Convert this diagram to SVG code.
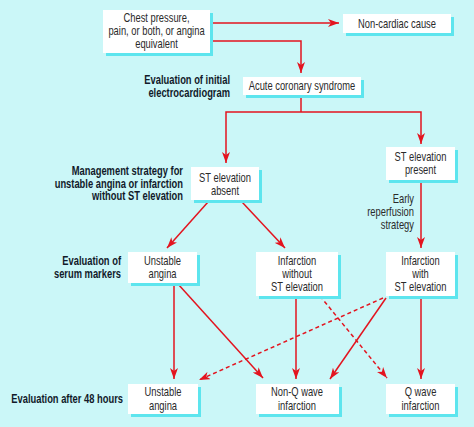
<svg xmlns="http://www.w3.org/2000/svg" width="474" height="427" viewBox="0 0 474 427">
<style>
.bg{fill:#cbf7f8}
.sh{fill:#5de5ee}
.bx{fill:#ffffff}
.t{font-family:"Liberation Sans",Arial,sans-serif;font-size:12px;fill:#2a2a2a;text-anchor:middle}
.l{font-family:"Liberation Sans",Arial,sans-serif;font-size:12px;font-weight:bold;fill:#111a2a;text-anchor:end}
.c{fill:none;stroke:#e3141f;stroke-width:1.5}
.d{stroke-dasharray:4 3}
</style>
<defs>
<marker id="ah" viewBox="0 0 11 8" refX="11" refY="4" markerWidth="11" markerHeight="8" markerUnits="userSpaceOnUse" orient="auto">
<path d="M0,0 L11,4 L0,8 L3,4 z" fill="#e3141f"/>
</marker>
</defs>
<rect class="bg" x="0" y="0" width="474" height="427"/>

<g id="labels">
<text class="l" transform="translate(230,84) scale(0.78,1)">Evaluation of initial</text>
<text class="l" transform="translate(230,97) scale(0.78,1)">electrocardiogram</text>
<text class="l" transform="translate(183,175) scale(0.78,1)">Management strategy for</text>
<text class="l" transform="translate(183,187.5) scale(0.78,1)">unstable angina or infarction</text>
<text class="l" transform="translate(183,200) scale(0.78,1)">without ST elevation</text>
<text class="l" transform="translate(121,265) scale(0.78,1)">Evaluation of</text>
<text class="l" transform="translate(121,278) scale(0.78,1)">serum markers</text>
<text class="l" transform="translate(123,403) scale(0.78,1)">Evaluation after 48 hours</text>
<text class="t" style="text-anchor:end" transform="translate(414,203) scale(0.78,1)">Early</text>
<text class="t" style="text-anchor:end" transform="translate(414,216) scale(0.78,1)">reperfusion</text>
<text class="t" style="text-anchor:end" transform="translate(414,229) scale(0.78,1)">strategy</text>
</g>

<g id="connectors">
<path class="c" d="M210,23 H339" marker-end="url(#ah)"/>
<path class="c" d="M210,41 H301 V73" marker-end="url(#ah)"/>
<path class="c" d="M301,95 V112"/>
<path class="c" d="M301,112 H226 V163" marker-end="url(#ah)"/>
<path class="c" d="M301,112 H421 V144" marker-end="url(#ah)"/>
<path class="c" d="M421,180 V248" marker-end="url(#ah)"/>
<path class="c" d="M208,202 L167,248" marker-end="url(#ah)"/>
<path class="c" d="M242,202 L285,248" marker-end="url(#ah)"/>
<path class="c" d="M174,284 V379" marker-end="url(#ah)"/>
<path class="c" d="M178,284 L263,378" marker-end="url(#ah)"/>
<path class="c" d="M296,296 V379" marker-end="url(#ah)"/>
<path class="c d" d="M320,296 L387,378" marker-end="url(#ah)"/>
<path class="c d" d="M383,298 L199,380" marker-end="url(#ah)"/>
<path class="c" d="M386,298 L330,379" marker-end="url(#ah)"/>
<path class="c" d="M421,296 V379" marker-end="url(#ah)"/>
</g>

<g id="chest">
<rect class="sh" x="106" y="13" width="107" height="43"/>
<rect class="bx" x="103" y="10" width="107" height="43"/>
<text class="t" transform="translate(156.5,22) scale(0.78,1)">Chest pressure,</text>
<text class="t" transform="translate(156.5,35) scale(0.78,1)">pain, or both, or angina</text>
<text class="t" transform="translate(156.5,48) scale(0.78,1)">equivalent</text>
</g>
<g id="noncardiac">
<rect class="sh" x="346" y="17" width="108" height="19"/>
<rect class="bx" x="343" y="14" width="108" height="19"/>
<text class="t" transform="translate(397,27.5) scale(0.78,1)">Non-cardiac cause</text>
</g>
<g id="acs">
<rect class="sh" x="246" y="80" width="118" height="18"/>
<rect class="bx" x="243" y="77" width="118" height="18"/>
<text class="t" transform="translate(302,89.5) scale(0.78,1)">Acute coronary syndrome</text>
</g>
<g id="st-absent">
<rect class="sh" x="194" y="170" width="68" height="33"/>
<rect class="bx" x="191" y="167" width="68" height="33"/>
<text class="t" transform="translate(225,182) scale(0.78,1)">ST elevation</text>
<text class="t" transform="translate(225,195) scale(0.78,1)">absent</text>
</g>
<g id="st-present">
<rect class="sh" x="389" y="150" width="69" height="33"/>
<rect class="bx" x="386" y="147" width="69" height="33"/>
<text class="t" transform="translate(420.5,161) scale(0.78,1)">ST elevation</text>
<text class="t" transform="translate(420.5,174) scale(0.78,1)">present</text>
</g>
<g id="ua1">
<rect class="sh" x="131" y="255" width="69" height="31"/>
<rect class="bx" x="128" y="252" width="69" height="31"/>
<text class="t" transform="translate(162.5,265) scale(0.78,1)">Unstable</text>
<text class="t" transform="translate(162.5,278) scale(0.78,1)">angina</text>
</g>
<g id="inf-without">
<rect class="sh" x="259" y="255" width="82" height="44"/>
<rect class="bx" x="256" y="252" width="82" height="44"/>
<text class="t" transform="translate(297,265) scale(0.78,1)">Infarction</text>
<text class="t" transform="translate(297,278) scale(0.78,1)">without</text>
<text class="t" transform="translate(297,291) scale(0.78,1)">ST elevation</text>
</g>
<g id="inf-with">
<rect class="sh" x="389" y="255" width="69" height="44"/>
<rect class="bx" x="386" y="252" width="69" height="44"/>
<text class="t" transform="translate(420.5,265) scale(0.78,1)">Infarction</text>
<text class="t" transform="translate(420.5,278) scale(0.78,1)">with</text>
<text class="t" transform="translate(420.5,291) scale(0.78,1)">ST elevation</text>
</g>
<g id="ua2">
<rect class="sh" x="131" y="387" width="70" height="30"/>
<rect class="bx" x="128" y="384" width="70" height="30"/>
<text class="t" transform="translate(163,396) scale(0.78,1)">Unstable</text>
<text class="t" transform="translate(163,410) scale(0.78,1)">angina</text>
</g>
<g id="nonq">
<rect class="sh" x="259" y="387" width="83" height="30"/>
<rect class="bx" x="256" y="384" width="83" height="30"/>
<text class="t" transform="translate(297,396) scale(0.78,1)">Non-Q wave</text>
<text class="t" transform="translate(297,410) scale(0.78,1)">infarction</text>
</g>
<g id="qwave">
<rect class="sh" x="389" y="387" width="69" height="30"/>
<rect class="bx" x="386" y="384" width="69" height="30"/>
<text class="t" transform="translate(420.5,396) scale(0.78,1)">Q wave</text>
<text class="t" transform="translate(420.5,410) scale(0.78,1)">infarction</text>
</g>
</svg>
